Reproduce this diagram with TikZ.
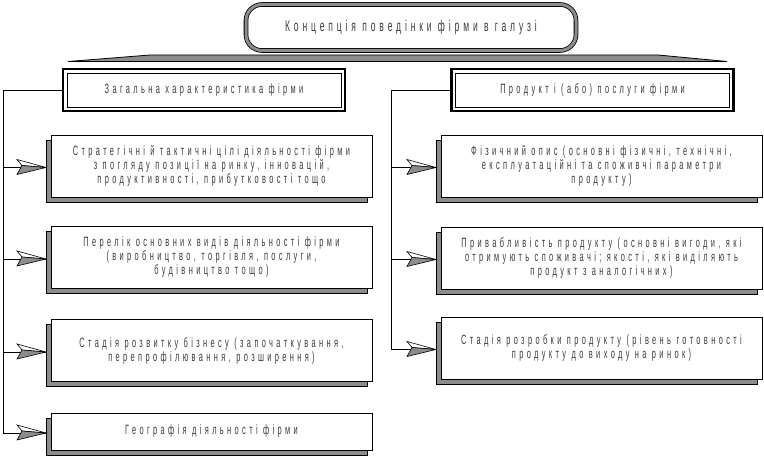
\documentclass[tikz,border=0pt]{standalone}
\usepackage{fontspec}
\setmainfont{Liberation Sans}[FakeStretch=0.55,LetterSpace=25]
\usetikzlibrary{shadows}
\definecolor{shgray}{RGB}{140,140,140}
\definecolor{txt}{RGB}{60,60,60}
\tikzset{
  dart/.pic={
    \filldraw[fill=white, line width=0.6pt] (0,0) -- (-29,-8) -- (-24,-2) -- cycle;
    \filldraw[fill=shgray, line width=0.6pt] (0,0) -- (-24,-2) -- (-29,7) -- cycle;
  }
}
\begin{document}
\begin{tikzpicture}[x=1pt,y=-1pt,
  every node/.style={inner sep=0pt, outer sep=0pt},
  conn/.style={line width=0.8pt},
  itembox/.style={draw=black, line width=0.8pt, fill=white,
    minimum width=321pt, minimum height=62pt, align=center,
    font=\fontsize{13.5}{14}\selectfont, text=txt,
    general shadow={fill=shgray, draw=black, line width=0.8pt,
      shadow xshift=-5pt, shadow yshift=-5pt}},
  headbox/.style={draw=black, line width=2.4pt, fill=white,
    minimum width=282pt, minimum height=42pt,
    font=\fontsize{13.5}{14}\selectfont, text=txt},
  titlebox/.style={draw=black, line width=0.8pt, double=shgray, double distance=3pt,
    rounded corners=16pt, fill=white, minimum width=330pt, minimum height=46pt,
    font=\fontsize{15.5}{16}\selectfont, text=txt},
  innerframe/.style={line width=0.9pt}
]
\useasboundingbox (0,0) rectangle (764,457);

% title and bar
\node[titlebox] (title) at (411,27.5) {Концепція поведінки фірми в галузі};
\draw[fill=shgray, line width=0.8pt] (68,61.5) -- (150,55) -- (658,55) -- (727,61.5) -- cycle;

% headers
\node[headbox] (h1) at (204,90) {Загальна характеристика фірми};
\node[headbox] (h2) at (592.5,90) {Продукт і (або) послуги фірми};
\draw[innerframe] ([shift={(4,4)}]h1.north west) rectangle ([shift={(-4,-4)}]h1.south east);
\draw[innerframe] ([shift={(4,4)}]h2.north west) rectangle ([shift={(-4,-4)}]h2.south east);

% left boxes
\node[itembox] (l1) at (211.5,166) {Стратегічні й тактичні цілі діяльності фірми\\з погляду позиції на ринку, інновацій,\\продуктивності, прибутковості тощо};
\node[itembox] (l2) at (211.5,257.5) {Перелік основних видів діяльності фірми\\(виробництво, торгівля, послуги,\\будівництво тощо)};
\node[itembox] (l3) at (211.5,350.5) {Стадія розвитку бізнесу (започаткування,\\перепрофілювання, розширення)};
\node[itembox, minimum height=37pt] (l4) at (211.5,431.5) {Географія діяльності фірми};

% right boxes
\node[itembox] (r1) at (601.5,166) {Фізичний опис (основні фізичні, технічні,\\експлуатаційні та споживчі параметри\\продукту)};
\node[itembox] (r2) at (601.5,258) {Привабливість продукту (основні вигоди, які\\отримують споживачі; якості, які виділяють\\продукт з аналогічних)};
\node[itembox] (r3) at (601.5,348) {Стадія розробки продукту (рівень готовності\\продукту до виходу на ринок)};

% connector columns
\coordinate (lx) at (3,0);
\coordinate (rx) at (391,0);
\foreach \b in {l1,l2,l3,l4,r1,r2,r3}{
  \coordinate (\b t) at ([shift={(-5,1.5)}]\b.west);
}
\draw[conn] (h1.west) -- (h1.west -| lx) -- (l4t -| lx);
\draw[conn] (h2.west) -- (h2.west -| rx) -- (r3t -| rx);
\foreach \b in {l1,l2,l3,l4}{
  \draw[conn] (\b t -| lx) -- (\b t);
  \pic at (\b t) {dart};
}
\foreach \b in {r1,r2,r3}{
  \draw[conn] (\b t -| rx) -- (\b t);
  \pic at (\b t) {dart};
}
\end{tikzpicture}
\end{document}
